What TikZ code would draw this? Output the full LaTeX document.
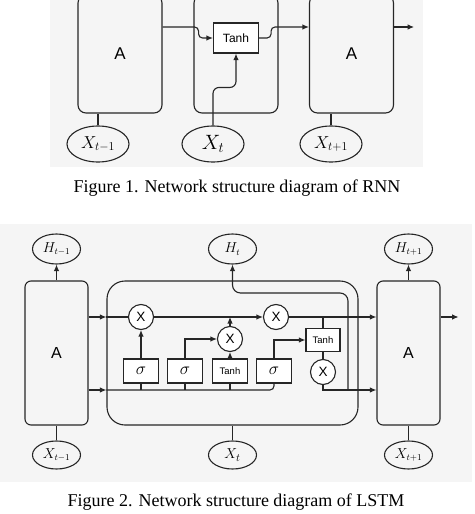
\documentclass[tikz,border=0pt]{standalone}
\usepackage{fontspec}
\setmainfont{Liberation Serif}
\setsansfont{Liberation Sans}
\usetikzlibrary{shapes.geometric,arrows.meta,positioning}

\tikzset{
  wire/.style={draw=black!85, line width=1.1pt},
  arr/.style={wire, -{Latex[length=6.5pt,width=5.5pt]}},
  cellbox/.style={wire, rounded corners=8pt, font=\sffamily\fontsize{17}{19}\selectfont},
  gate/.style={wire, rectangle, fill=white, minimum width=35pt, minimum height=24pt, inner sep=0pt, font=\fontsize{18}{20}\selectfont},
  mult/.style={wire, circle, fill=white, minimum size=25pt, inner sep=0pt, font=\sffamily\fontsize{13.5}{15}\selectfont},
  seq/.style={wire, ellipse, inner sep=0pt},
  caption/.style={font=\fontsize{18}{20}\selectfont}
}

\begin{document}
\begin{tikzpicture}[x=1pt,y=-1pt]
\useasboundingbox (0,0) rectangle (474,514);

% Light backgrounds
\fill [black!4] (50,0) rectangle (423,167);
\fill [black!4] (0,224) rectangle (472,482);

% RNN cells
\node [cellbox, minimum width=84pt, minimum height=118pt] (rnnA) at (120,54) {A};
\node [cellbox, minimum width=84pt, minimum height=118pt] (rnnB) at (236,54) {};
\node [cellbox, minimum width=84pt, minimum height=118pt] (rnnC) at (351.5,54) {A};
\node [gate, minimum width=45pt, minimum height=30pt, font=\sffamily\fontsize{12}{13}\selectfont] (rnnTanh) at (236,38) {Tanh};

% RNN inputs
\node [seq, minimum width=62pt, minimum height=36pt, font=\fontsize{17}{18}\selectfont] (rnnXa) at (98,144) {$X_{t-1}$};
\node [seq, minimum width=62pt, minimum height=36pt, font=\fontsize{20}{21}\selectfont] (rnnXb) at (213,144) {$X_t$};
\node [seq, minimum width=62pt, minimum height=36pt, font=\fontsize{17}{18}\selectfont] (rnnXc) at (331,144) {$X_{t+1}$};

% RNN connections
\draw [arr, rounded corners=4pt] ([yshift=27pt]rnnA.east) -- ++(36,0) |- (rnnTanh.west);
\draw [arr, rounded corners=4pt] (rnnTanh.east) -- ++(12,0) |- ([yshift=27pt]rnnC.west);
\draw [arr] ([yshift=27pt]rnnC.east) -- ++(20,0);
\draw [arr, rounded corners=6pt] (rnnXb.north) -- ++(0,-38) -| (rnnTanh.south);
\draw [wire] (rnnXa.north) -- (rnnXa.north |- rnnA.south);
\draw [wire] (rnnXc.north) -- (rnnXc.north |- rnnC.south);

\node [caption] (capRnn) at (237,188) {Figure 1. Network structure diagram of RNN};

% LSTM cells
\node [cellbox, rounded corners=6pt, minimum width=63pt, minimum height=144pt, font=\sffamily\fontsize{16}{18}\selectfont] (lA) at (56.5,353) {A};
\node [cellbox, rounded corners=6pt, minimum width=63pt, minimum height=144pt, font=\sffamily\fontsize{16}{18}\selectfont] (lC) at (408.5,353) {A};
\node [wire, rounded corners=18pt, minimum width=251pt, minimum height=144pt] (cell) at (232.5,353) {};

% Gates
\node [gate] (sigF) at (141,371) {$\sigma$};
\node [gate] (sigI) at (185,371) {$\sigma$};
\node [gate, font=\sffamily\fontsize{9.5}{10}\selectfont] (tanhC) at (230,371) {Tanh};
\node [gate] (sigO) at (274,371) {$\sigma$};
\node [gate, minimum width=34pt, minimum height=23pt, font=\sffamily\fontsize{9.5}{10}\selectfont] (tanhH) at (323,340) {Tanh};

% Pointwise products
\node [mult] (mulF) at (141,317) {X};
\node [mult] (mulI) at (230,339) {X};
\node [mult] (mulC) at (276,317) {X};
\node [mult] (mulH) at (323,372) {X};

% Hidden states and inputs
\foreach \n/\x/\t in {a/56.5/{t-1},b/232.5/t,c/408.5/{t+1}}
{
\node [seq, minimum width=48pt, minimum height=30pt, font=\fontsize{13.5}{15}\selectfont] (lH\n) at (\x,249) {$H_{\t}$};
}
\node [seq, minimum width=48pt, minimum height=28pt, font=\fontsize{13.5}{15}\selectfont] (lXa) at (56.5,455) {$X_{t-1}$};
\node [seq, minimum width=48pt, minimum height=28pt, font=\fontsize{15}{16}\selectfont] (lXb) at (232.5,455) {$X_t$};
\node [seq, minimum width=48pt, minimum height=28pt, font=\fontsize{13.5}{15}\selectfont] (lXc) at (408.5,455) {$X_{t+1}$};

\coordinate (hrow) at (0,390);
\coordinate (hsplit) at (348,390);

% Cell state line
\draw [arr] (lA.east |- mulF) -- (cell.west |- mulF);
\draw [wire] (cell.west |- mulF) -- (mulF);
\draw [arr] (mulF) -- (mulC);
\draw [arr] (mulC) -- (lC.west |- mulC);
\draw [wire] (tanhH.north) -- (tanhH.north |- mulC);
\draw [arr] (mulI) -- (mulI |- mulF);

% Gates to products
\draw [arr] (sigF) -- (mulF);
\draw [arr] (sigI.north) |- (mulI.west);
\draw [arr] (tanhC) -- (mulI);
\draw [arr] (sigO.north) |- (tanhH.west);
\draw [wire] (tanhH) -- (mulH);

% Hidden line
\draw [arr] (lA.east |- hrow) -- (cell.west |- hrow);
\draw [wire, rounded corners=4pt] (cell.west |- hrow) -| (sigO.south);
\foreach \g in {sigF,sigI,tanhC}
\draw [wire] (\g.south) -- (\g.south |- hrow);
\draw [arr] (mulH.south) |- (lC.west |- hrow);
\draw [arr, rounded corners=8pt] (hsplit) -- (348,293) -| (lHb.south);

% Tops and bottoms
\draw [arr] (lA.north) -- (lHa.south);
\draw [arr] (lC.north) -- (lHc.south);
\draw [wire] (lXa.north) -- (lA.south);
\draw [wire] (lXb.north) -- (cell.south);
\draw [wire] (lXc.north) -- (lC.south);
\draw [arr] ([yshift=36pt]lC.east) -- ++(18,0);

\node [caption] (capLstm) at (236,502) {Figure 2. Network structure diagram of LSTM};

\end{tikzpicture}
\end{document}
